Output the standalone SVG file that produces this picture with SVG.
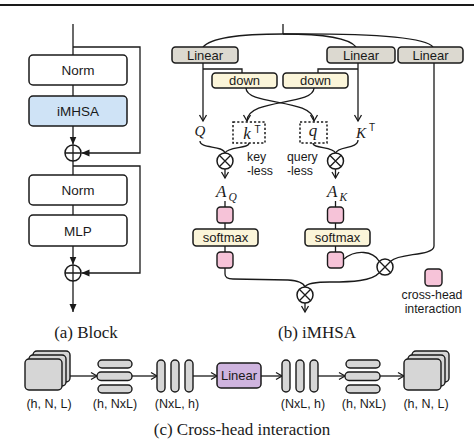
<svg xmlns="http://www.w3.org/2000/svg" width="474" height="442" viewBox="0 0 474 442">
<defs>
<marker id="tri" markerWidth="9" markerHeight="8" refX="8" refY="4" orient="auto" markerUnits="userSpaceOnUse">
<path d="M0,0.5 L8,4 L0,7.5 z" fill="#1a1a1a"/>
</marker>
<marker id="chev" markerWidth="10" markerHeight="10" refX="7.5" refY="5" orient="auto" markerUnits="userSpaceOnUse">
<path d="M1.5,1.5 L7.5,5 L1.5,8.5" fill="none" stroke="#1a1a1a" stroke-width="1.3"/>
</marker>
<style>
.ln{fill:none;stroke:#1a1a1a;stroke-width:1.3}
.box{stroke:#1a1a1a;stroke-width:1.5}
.white{fill:#ffffff}
.blue{fill:#cfe3f6}
.grey{fill:#dcd9d0}
.yel{fill:#fbf5d9}
.pink{fill:#f6c3d8;stroke:#1a1a1a;stroke-width:1.4}
.purple{fill:#cfb4df}
.shape{fill:#d6d6d6;stroke:#1a1a1a;stroke-width:1.4}
.dash{fill:none;stroke:#1a1a1a;stroke-width:1.5;stroke-dasharray:2.2,2}
.op{fill:#ffffff;stroke:#1a1a1a;stroke-width:1.5}
.t{font-family:"Liberation Sans",Arial,Helvetica,sans-serif;font-size:13px;fill:#1a1a1a;text-anchor:middle}
.l{font-family:"Liberation Sans",Arial,Helvetica,sans-serif;font-size:12.3px;fill:#1a1a1a}
.s{font-family:"Liberation Sans",Arial,Helvetica,sans-serif;font-size:12.5px;fill:#1a1a1a;text-anchor:middle}
.m{font-family:"Liberation Serif","Times New Roman",serif;font-style:italic;fill:#1a1a1a}
.cap{font-family:"Liberation Serif","Times New Roman",serif;font-size:17px;fill:#1a1a1a;text-anchor:middle}
</style>
</defs>
<rect width="474" height="442" fill="#ffffff"/>
<line x1="0" y1="5" x2="474" y2="5" stroke="#1a1a1a" stroke-width="2"/>

<!-- connectors -->
<g id="connectors">
<!-- panel a -->
<path class="ln" d="M73,24 L73,55"/>
<path class="ln" d="M73,47 L140,47 L140,153 L81.5,153" marker-end="url(#tri)"/>
<path class="ln" d="M73,85 L73,96"/>
<path class="ln" d="M73,126 L73,144.5" marker-end="url(#tri)"/>
<path class="ln" d="M73,161 L73,175"/>
<path class="ln" d="M73,166 L140,166 L140,273 L81.5,273" marker-end="url(#tri)"/>
<path class="ln" d="M73,205 L73,215"/>
<path class="ln" d="M73,246 L73,264.5" marker-end="url(#tri)"/>
<path class="ln" d="M73,281 L73,312" marker-end="url(#tri)"/>
<!-- panel b -->
<path class="ln" d="M283,24 L283,34"/>
<path class="ln" d="M283,34 Q214,34 203,47"/>
<path class="ln" d="M283,34 Q346,34 356,47"/>
<path class="ln" d="M283,34 Q422,33 433,47"/>
<path class="ln" d="M203,63 L203,121" marker-end="url(#chev)"/>
<path class="ln" d="M203,69 L242,69 L242,73"/>
<path class="ln" d="M358,63 L358,121" marker-end="url(#chev)"/>
<path class="ln" d="M358,69 L318,69 L318,73"/>
<path class="ln" d="M246,88 C246,106 314,98 314,121" marker-end="url(#chev)"/>
<path class="ln" d="M314,88 C314,106 247,98 247,121" marker-end="url(#chev)"/>
<path class="ln" d="M200,141 C200,149 223,145 225,153"/>
<path class="ln" d="M249,143 C249,149 228,146 225,153"/>
<path class="ln" d="M313,143 C313,149 333,146 335.5,153"/>
<path class="ln" d="M358,140 C358,149 338,146 335.5,153"/>
<path class="ln" d="M225,169 L225,178" marker-end="url(#chev)"/>
<path class="ln" d="M335.5,169 L335.5,178" marker-end="url(#chev)"/>
<path class="ln" d="M225,201 L225,207"/>
<path class="ln" d="M225,223 L225,229"/>
<path class="ln" d="M225,246 L225,252"/>
<path class="ln" d="M335.5,201 L335.5,207"/>
<path class="ln" d="M335.5,223 L335.5,229"/>
<path class="ln" d="M335.5,246 L335.5,252"/>
<path class="ln" d="M225,268 L225,274 Q225,279 233,279 L288,280 Q303,281 305,287"/>
<path class="ln" d="M434,63 L434,246 C434,256 399,253 391,261"/>
<path class="ln" d="M344,259 C356,249 373,251 379,261"/>
<path class="ln" d="M379,273 C372,281 352,282 330,282 C316,282 307,283 305,287"/>
<path class="ln" d="M305,303 L305,312" marker-end="url(#chev)"/>
<!-- panel c -->
<path class="ln" d="M70,376 L97,376" marker-end="url(#chev)"/>
<path class="ln" d="M132,376 L157,376" marker-end="url(#chev)"/>
<path class="ln" d="M193,376 L217,376" marker-end="url(#chev)"/>
<path class="ln" d="M261,376 L282,376" marker-end="url(#chev)"/>
<path class="ln" d="M318,376 L345,376" marker-end="url(#chev)"/>
<path class="ln" d="M380,376 L404,376" marker-end="url(#chev)"/>
</g>

<!-- panel a nodes -->
<g id="norm1"><rect class="box white" x="29" y="55" width="98" height="30" rx="4"/><text class="t" x="78" y="75" style="font-size:13.5px">Norm</text></g>
<g id="imhsa"><rect class="box blue" x="29" y="96" width="98" height="30" rx="4"/><text class="t" x="78" y="116" style="font-size:13.5px">iMHSA</text></g>
<g id="add1"><circle class="op" cx="73" cy="153" r="8"/><path class="ln" d="M65,153 L81,153 M73,145 L73,161"/></g>
<g id="norm2"><rect class="box white" x="29" y="175" width="98" height="30" rx="4"/><text class="t" x="78" y="195" style="font-size:13.5px">Norm</text></g>
<g id="mlp"><rect class="box white" x="29" y="215" width="98" height="31" rx="4"/><text class="t" x="78" y="235.5" style="font-size:13.5px">MLP</text></g>
<g id="add2"><circle class="op" cx="73" cy="273" r="8"/><path class="ln" d="M65,273 L81,273 M73,265 L73,281"/></g>
<text class="cap" x="86" y="338">(a) Block</text>

<!-- panel b nodes -->
<g id="linear1"><rect class="box grey" x="172" y="47" width="66" height="16" rx="3.5"/><text class="t" x="205" y="60">Linear</text></g>
<g id="linear2"><rect class="box grey" x="327" y="47" width="68" height="16" rx="3.5"/><text class="t" x="361" y="60">Linear</text></g>
<g id="linear3"><rect class="box grey" x="398" y="47" width="65" height="16" rx="3.5"/><text class="t" x="430.5" y="60">Linear</text></g>
<g id="down1"><rect class="box yel" x="212" y="73" width="65" height="15" rx="3.5"/><text class="t" x="244.5" y="85">down</text></g>
<g id="down2"><rect class="box yel" x="283" y="73" width="65" height="15" rx="3.5"/><text class="t" x="315.5" y="85">down</text></g>
<g id="Q"><text class="m" x="200" y="136" font-size="15" text-anchor="middle">Q</text></g>
<g id="kT"><rect class="dash" x="233" y="122" width="32" height="21"/><text class="m" x="247" y="139" font-size="17" text-anchor="middle">k</text><text class="t" x="257.5" y="133" style="font-size:10px">T</text></g>
<g id="q"><rect class="dash" x="300" y="122" width="27" height="21"/><text class="m" x="313" y="136" font-size="17" text-anchor="middle">q</text></g>
<g id="KT"><text class="m" x="361" y="138" font-size="15" text-anchor="middle">K</text><text class="t" x="372" y="131" style="font-size:10px">T</text></g>
<text class="l" x="247" y="161">key</text>
<text class="l" x="247" y="175">-less</text>
<text class="l" x="287" y="161">query</text>
<text class="l" x="287" y="175">-less</text>
<g id="mul1"><circle class="op" cx="225" cy="161" r="8"/><path class="ln" d="M219.3,155.3 L230.7,166.7 M230.7,155.3 L219.3,166.7"/></g>
<g id="mul2"><circle class="op" cx="335.5" cy="161" r="8"/><path class="ln" d="M329.8,155.3 L341.2,166.7 M341.2,155.3 L329.8,166.7"/></g>
<g id="AQ"><text class="m" x="216" y="197" font-size="17">A</text><text class="m" x="228.5" y="201" font-size="11.5">Q</text></g>
<g id="AK"><text class="m" x="327" y="197" font-size="17">A</text><text class="m" x="339.5" y="201" font-size="11.5">K</text></g>
<g id="pink1"><rect class="pink" x="217" y="207" width="16" height="16" rx="3.5"/></g>
<g id="softmax1"><rect class="box yel" x="193" y="229" width="65" height="17" rx="3.5"/><text class="t" x="225.5" y="242">softmax</text></g>
<g id="pink2"><rect class="pink" x="217" y="252" width="16" height="16" rx="3.5"/></g>
<g id="pink3"><rect class="pink" x="327.5" y="207" width="16" height="16" rx="3.5"/></g>
<g id="softmax2"><rect class="box yel" x="305" y="229" width="65" height="17" rx="3.5"/><text class="t" x="337.5" y="242">softmax</text></g>
<g id="pink4"><rect class="pink" x="327.5" y="252" width="16" height="16" rx="3.5"/></g>
<g id="mul3"><circle class="op" cx="385" cy="267" r="8"/><path class="ln" d="M379.3,261.3 L390.7,272.7 M390.7,261.3 L379.3,272.7"/></g>
<g id="mul4"><circle class="op" cx="305" cy="295" r="8"/><path class="ln" d="M299.3,289.3 L310.7,300.7 M310.7,289.3 L299.3,300.7"/></g>
<g id="legend"><rect class="pink" x="425" y="269" width="17" height="17" rx="3.5"/><text class="l" x="432" y="299" text-anchor="middle">cross-head</text><text class="l" x="433" y="313" text-anchor="middle">interaction</text></g>
<text class="cap" x="317" y="338">(b) iMHSA</text>

<!-- panel c nodes -->
<g id="stack1"><rect class="shape" x="33" y="351" width="37" height="31" rx="4"/><rect class="shape" x="29" y="355" width="37" height="31" rx="4"/><rect class="shape" x="25" y="359" width="37" height="31" rx="4"/></g>
<g id="hp1"><rect class="shape" x="98" y="360" width="34" height="8" rx="4"/><rect class="shape" x="97" y="372" width="35" height="8.5" rx="4"/><rect class="shape" x="98" y="385" width="34" height="8" rx="4"/></g>
<g id="vp1"><rect class="shape" x="157" y="360" width="8" height="32" rx="4"/><rect class="shape" x="171" y="360" width="8" height="32" rx="4"/><rect class="shape" x="185" y="360" width="8" height="32" rx="4"/></g>
<g id="linearc"><rect class="box purple" x="217" y="363" width="44" height="25" rx="4"/><text class="t" x="239" y="380">Linear</text></g>
<g id="vp2"><rect class="shape" x="282" y="360" width="8" height="32" rx="4"/><rect class="shape" x="296" y="360" width="8" height="32" rx="4"/><rect class="shape" x="310" y="360" width="8" height="32" rx="4"/></g>
<g id="hp2"><rect class="shape" x="346" y="360" width="34" height="8" rx="4"/><rect class="shape" x="345" y="372" width="35" height="8.5" rx="4"/><rect class="shape" x="346" y="385" width="34" height="8" rx="4"/></g>
<g id="stack2"><rect class="shape" x="412" y="351" width="37" height="31" rx="4"/><rect class="shape" x="408" y="355" width="37" height="31" rx="4"/><rect class="shape" x="404" y="359" width="37" height="31" rx="4"/></g>
<text class="s" x="49" y="408">(h, N, L)</text>
<text class="s" x="115" y="408">(h, NxL)</text>
<text class="s" x="177" y="408">(NxL, h)</text>
<text class="s" x="303" y="408">(NxL, h)</text>
<text class="s" x="364" y="408">(h, NxL)</text>
<text class="s" x="426" y="408">(h, N, L)</text>
<text class="cap" x="242" y="435">(c) Cross-head interaction</text>
</svg>
